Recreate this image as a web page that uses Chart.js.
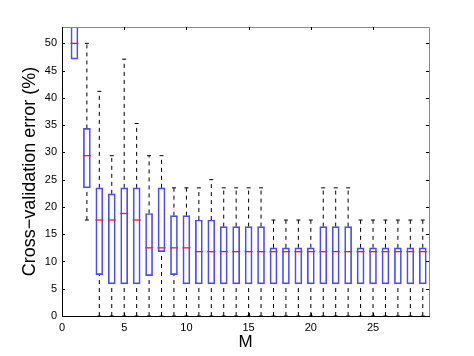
<!DOCTYPE html>
<html>
<head>
<meta charset="utf-8">
<script src="https://cdn.jsdelivr.net/npm/chart.js@4.4.0/dist/chart.umd.min.js"></script>
<style>
  html, body { margin: 0; padding: 0; background: #fff; }
  #wrap { width: 474px; height: 356px; }
</style>
</head>
<body>
<div id="wrap"><canvas id="c" width="474" height="356"></canvas></div>
<script>
// ---- data ----
const M = [1,2,3,4,5,6,7,8,9,10,11,12,13,14,15,16,17,18,19,20,21,22,23,24,25,26,27,28,29];
const whiskerHigh = [60, 50, 41.2, 29.4, 47.1, 35.3, 29.4, 29.4, 23.5, 23.5, 23.5, 25.0, 23.5, 23.5, 23.5, 23.5, 17.6, 17.6, 17.6, 17.6, 23.5, 23.5, 23.5, 17.6, 17.6, 17.6, 17.6, 17.6, 17.6];
const q3 = [56, 34.4, 23.5, 22.4, 23.5, 23.5, 18.8, 23.5, 18.4, 18.4, 17.6, 17.6, 16.4, 16.4, 16.4, 16.4, 12.5, 12.5, 12.5, 12.5, 16.4, 16.4, 16.4, 12.5, 12.5, 12.5, 12.5, 12.5, 12.5];
const median = [50, 29.4, 17.6, 17.6, 18.8, 17.6, 12.5, 12.5, 12.5, 12.5, 11.8, 11.8, 11.8, 11.8, 11.8, 11.8, 11.8, 11.8, 11.8, 11.8, 11.8, 11.8, 11.8, 11.8, 11.8, 11.8, 11.8, 11.8, 11.8];
const q1 = [47.1, 23.5, 7.6, 5.9, 5.9, 5.9, 7.4, 11.8, 7.6, 5.9, 5.9, 5.9, 5.9, 5.9, 5.9, 5.9, 5.9, 5.9, 5.9, 5.9, 5.9, 5.9, 5.9, 5.9, 5.9, 5.9, 5.9, 5.9, 5.9];
const whiskerLow = [47.1, 17.6, 0, 0, 0, 0, 0, 0, 0, 0, 0, 0, 0, 0, 0, 0, 0, 0, 0, 0, 0, 0, 0, 0, 0, 0, 0, 0, 0];
const xTicks = [0, 5, 10, 15, 20, 25];
const yTicks = [0, 5, 10, 15, 20, 25, 30, 35, 40, 45, 50];
const xLabel = 'M';
const yLabel = 'Cross\u2212validation error (%)';

// ---- build library structures ----
const boxes = M.map((m, i) => ({ x: m, y: [q1[i], q3[i]] }));
const whiskers = [];
M.forEach((m, i) => {
  whiskers.push({ x: m, y: q3[i] }, { x: m, y: whiskerHigh[i] }, { x: m, y: null });
  if (q1[i] > whiskerLow[i]) {
    whiskers.push({ x: m, y: whiskerLow[i] }, { x: m, y: q1[i] }, { x: m, y: null });
  }
});
const caps = [];
M.forEach((m, i) => {
  caps.push({ x: m, y: whiskerHigh[i] });
  if (q1[i] > whiskerLow[i]) caps.push({ x: m, y: whiskerLow[i] });
});
const medians = M.map((m, i) => ({ x: m, y: median[i] }));

const FONT = "'Liberation Sans', Arial, Helvetica, sans-serif";

const frame = {
  id: 'frame',
  afterDraw(chart) {
    const { ctx, chartArea: a, scales: { x, y } } = chart;
    ctx.save();
    ctx.lineWidth = 1;
    ctx.strokeStyle = '#8a8a8a';
    ctx.beginPath();
    ctx.moveTo(a.left, a.top + 0.5); ctx.lineTo(a.right + 0.5, a.top + 0.5);
    ctx.lineTo(a.right + 0.5, a.bottom);
    ctx.stroke();
    ctx.strokeStyle = '#000';
    ctx.beginPath();
    xTicks.forEach(v => {
      const px = Math.round(x.getPixelForValue(v)) + 0.5;
      ctx.moveTo(px, a.bottom); ctx.lineTo(px, a.bottom - 3);
      ctx.moveTo(px, a.top); ctx.lineTo(px, a.top + 3);
    });
    yTicks.forEach(v => {
      const py = Math.round(y.getPixelForValue(v)) + 0.5;
      ctx.moveTo(a.left, py); ctx.lineTo(a.left + 3, py);
      ctx.moveTo(a.right, py); ctx.lineTo(a.right - 3, py);
    });
    ctx.stroke();
    ctx.restore();
  }
};

new Chart(document.getElementById('c'), {
  type: 'bar',
  data: {
    datasets: [
      {
        type: 'line', label: 'medians', data: medians, order: 0,
        showLine: false, pointStyle: 'line', pointRadius: 4,
        pointBorderColor: '#ff1a1a', pointBorderWidth: 1.3, pointBackgroundColor: '#ff1a1a'
      },
      {
        type: 'bar', label: 'boxes', data: boxes, order: 1,
        barThickness: 7, borderColor: '#4a4aff', borderWidth: 1,
        backgroundColor: 'rgba(0,0,0,0)', borderSkipped: false
      },
      {
        type: 'line', label: 'caps', data: caps, order: 2,
        showLine: false, pointStyle: 'line', pointRadius: 2,
        pointBorderColor: '#000', pointBorderWidth: 1
      },
      {
        type: 'line', label: 'whiskers', data: whiskers, order: 3,
        spanGaps: false, borderColor: '#000', borderWidth: 1, borderDash: [4, 4],
        pointRadius: 0, fill: false
      }
    ]
  },
  options: {
    responsive: false,
    animation: false,
    events: [],
    layout: { padding: { left: 0, top: 27, right: 45, bottom: 0 } },
    plugins: { legend: { display: false }, tooltip: { enabled: false } },
    scales: {
      x: {
        type: 'linear', min: 0, max: 29.5, offset: false,
        afterFit: s => { s.height = 40; },
        afterBuildTicks: s => { s.ticks = xTicks.map(v => ({ value: v })); },
        grid: { display: false, drawTicks: false },
        border: { display: true, color: '#000', width: 1 },
        ticks: { color: '#000', font: { family: FONT, size: 11 }, padding: 5, maxRotation: 0 },
        title: { display: true, text: xLabel, color: '#000', font: { family: FONT, size: 17 }, padding: { top: 0, bottom: 3 } }
      },
      y: {
        type: 'linear', min: 0, max: 53,
        afterFit: s => { s.width = 62; },
        afterBuildTicks: s => { s.ticks = yTicks.map(v => ({ value: v })); },
        grid: { display: false, drawTicks: false },
        border: { display: true, color: '#000', width: 1 },
        ticks: { color: '#000', font: { family: FONT, size: 11 }, padding: 5 },
        title: { display: true, text: yLabel, color: '#000', font: { family: FONT, size: 18 }, padding: { top: 19, bottom: 0 } }
      }
    }
  },
  plugins: [frame]
});
</script>
</body>
</html>
